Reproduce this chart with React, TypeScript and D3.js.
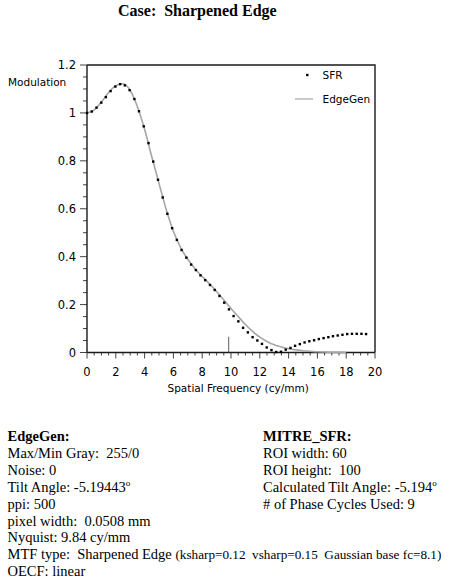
import * as d3 from "d3";
import { useEffect, useRef } from "react";

// SFR measured points (cy/mm, modulation)
const sfrFreq = [
  0, 0.33, 0.66, 0.99, 1.31, 1.64, 1.97, 2.3, 2.63, 2.96, 3.29, 3.61, 3.94, 4.27, 4.6, 4.93, 5.26, 5.58, 5.91, 6.24,
  6.57, 6.9, 7.23, 7.56, 7.88, 8.21, 8.54, 8.87, 9.2, 9.53, 9.86, 10.18, 10.51, 10.84, 11.17, 11.5, 11.83, 12.15, 12.48, 12.81,
  13.14, 13.47, 13.8, 14.13, 14.45, 14.78, 15.11, 15.44, 15.77, 16.1, 16.43, 16.76, 17.08, 17.41, 17.74, 18.07, 18.4, 18.73, 19.06, 19.38,
];
const sfrMod = [
  1.0, 1.006, 1.022, 1.043, 1.066, 1.091, 1.11, 1.12, 1.115, 1.095, 1.058, 1.007, 0.944, 0.874, 0.797, 0.721, 0.647, 0.579, 0.519, 0.47,
  0.428, 0.396, 0.367, 0.344, 0.322, 0.302, 0.282, 0.261, 0.236, 0.208, 0.18, 0.152, 0.13, 0.103, 0.084, 0.064, 0.05, 0.036, 0.021, 0.01,
  0.002, 0.003, 0.012, 0.019, 0.028, 0.035, 0.042, 0.047, 0.051, 0.056, 0.06, 0.064, 0.068, 0.071, 0.074, 0.077, 0.078, 0.078, 0.078, 0.077,
];

// EdgeGen reference curve
const edgeFreq = [
  0, 0.5, 1, 1.5, 2, 2.5, 3, 3.5, 4, 4.5, 5, 5.5, 6, 6.5, 7, 7.5, 8, 8.5, 9, 9.5,
  10, 10.5, 11, 11.5, 12, 12.5, 13, 13.5, 14, 14.5, 15, 15.5, 16, 16.5, 17, 17.5, 18,
];
const edgeMod = [
  1.0, 1.012, 1.045, 1.085, 1.114, 1.122, 1.094, 1.026, 0.932, 0.817, 0.706, 0.597, 0.506, 0.438, 0.389, 0.35, 0.317, 0.287, 0.255, 0.219,
  0.184, 0.15, 0.117, 0.088, 0.064, 0.046, 0.032, 0.023, 0.016, 0.011, 0.007, 0.005, 0.003, 0.002, 0.001, 0.0005, 0,
];

const nyquist = 9.84;
const xTicks = [0, 2, 4, 6, 8, 10, 12, 14, 16, 18, 20];
const yTicks = [0, 0.2, 0.4, 0.6, 0.8, 1, 1.2];

const NB = "\u00a0";
const leftLines = [
  `Max/Min Gray:${NB} 255/0`,
  "Noise: 0",
  "Tilt Angle: -5.19443",
  "ppi: 500",
  `pixel width:${NB} 0.0508 mm`,
  "Nyquist: 9.84 cy/mm",
];
const rightLines = ["ROI width: 60", `ROI height:${NB} 100`, "Calculated Tilt Angle: -5.194", "# of Phase Cycles Used: 9"];

export default function App() {
  const svgRef = useRef<SVGSVGElement | null>(null);

  useEffect(() => {
    document.body.style.margin = "0";
    if (!svgRef.current) return;
    const svg = d3.select(svgRef.current);
    svg.selectAll("*").remove();

    const plot = { left: 87, right: 375, top: 65, bottom: 352.5 };
    const x = d3.scaleLinear().domain([0, 20]).range([plot.left, plot.right]);
    const y = d3.scaleLinear().domain([0, 1.2]).range([plot.bottom, plot.top]);
    const sansFont = "DejaVu Sans, Verdana, sans-serif";
    const serifFont = "Liberation Serif, Times New Roman, serif";

    // title
    svg.append("text")
      .attr("x", 118).attr("y", 15.5)
      .attr("font-family", serifFont).attr("font-weight", "bold").attr("font-size", 16)
      .text(`Case:${NB} Sharpened Edge`);

    // frame
    svg.append("path")
      .attr("d", `M${plot.left},${plot.top}H${plot.right}V${plot.bottom}`)
      .attr("fill", "none").attr("stroke", "#1a1a1a").attr("stroke-width", 1.4);

    // minor + major ticks
    const g = svg.append("g").attr("stroke", "#444").attr("stroke-width", 1);
    d3.range(0, 20.001, 0.5).forEach(v => {
      const major = Math.abs(v % 2) < 1e-6;
      g.append("line").attr("x1", x(v)).attr("x2", x(v)).attr("y1", plot.bottom).attr("y2", plot.bottom + (major ? 6 : 3));
    });
    d3.range(0, 1.2001, 0.05).forEach(v => {
      const major = Math.abs(Math.round(v * 100) % 20) < 1e-6;
      g.append("line").attr("y1", y(v)).attr("y2", y(v)).attr("x1", plot.left).attr("x2", plot.left - (major ? 7 : 4));
    });

    // axes lines
    svg.append("line").attr("x1", plot.left).attr("x2", plot.right).attr("y1", plot.bottom).attr("y2", plot.bottom)
      .attr("stroke", "#1a1a1a").attr("stroke-width", 1.4);
    svg.append("line").attr("x1", plot.left).attr("x2", plot.left).attr("y1", plot.top).attr("y2", plot.bottom)
      .attr("stroke", "#1a1a1a").attr("stroke-width", 1.4);

    // tick labels
    svg.append("g").selectAll("text").data(xTicks).join("text")
      .attr("x", d => x(d)).attr("y", 375.5)
      .attr("text-anchor", "middle").attr("font-family", sansFont).attr("font-size", 11.5)
      .text(d => d);
    svg.append("g").selectAll("text").data(yTicks).join("text")
      .attr("x", 76).attr("y", d => y(d) + 4.2)
      .attr("text-anchor", "end").attr("font-family", sansFont).attr("font-size", 11.5)
      .text(d => d);

    svg.append("text").attr("x", 8).attr("y", 86)
      .attr("font-family", sansFont).attr("font-size", 10.5).text("Modulation");
    svg.append("text").attr("x", 167.5).attr("y", 391.5)
      .attr("font-family", sansFont).attr("font-size", 10.5).text("Spatial Frequency (cy/mm)");

    // Nyquist marker
    svg.append("line").attr("x1", x(nyquist)).attr("x2", x(nyquist)).attr("y1", y(0)).attr("y2", y(0.066))
      .attr("stroke", "#333").attr("stroke-width", 0.8);

    // EdgeGen line
    const edgeData = edgeFreq.map((f, i) => [f, edgeMod[i]] as [number, number]);
    const line = d3.line<[number, number]>().x(d => x(d[0])).y(d => y(d[1])).curve(d3.curveMonotoneX);
    svg.append("path").datum(edgeData).attr("d", line)
      .attr("fill", "none").attr("stroke", "#a6a6a6").attr("stroke-width", 1.6);

    // SFR points
    const sfrData = sfrFreq.map((f, i) => [f, sfrMod[i]] as [number, number]);
    svg.append("g").selectAll("rect").data(sfrData).join("rect")
      .attr("x", d => x(d[0]) - 1.2).attr("y", d => y(d[1]) - 1.2)
      .attr("width", 2.4).attr("height", 2.4).attr("fill", "#000");

    // legend
    svg.append("rect").attr("x", 306.1).attr("y", 73.8).attr("width", 2.4).attr("height", 2.4).attr("fill", "#000");
    svg.append("text").attr("x", 322.5).attr("y", 79).attr("font-family", sansFont).attr("font-size", 10.5).text("SFR");
    svg.append("line").attr("x1", 295).attr("x2", 313).attr("y1", 99).attr("y2", 99)
      .attr("stroke", "#a6a6a6").attr("stroke-width", 1.2);
    svg.append("text").attr("x", 322.5).attr("y", 102.5).attr("font-family", sansFont).attr("font-size", 10.5).text("EdgeGen");

    // info text
    const lineH = 16.9;
    const base = 441;
    const info = svg.append("g").attr("font-family", serifFont).attr("font-size", 14.5);
    info.append("text").attr("x", 7.5).attr("y", base).attr("font-weight", "bold").text("EdgeGen:");
    leftLines.forEach((t, i) => {
      const tx = info.append("text").attr("x", 7.5).attr("y", base + lineH * (i + 1)).text(t);
      if (t.startsWith("Tilt")) tx.append("tspan").attr("font-size", 9).attr("dy", -5.5).text("o");
    });
    const mtf = info.append("text").attr("x", 7.5).attr("y", base + lineH * 7).text(`MTF type:${NB} Sharpened Edge `);
    mtf.append("tspan").attr("font-size", 13.2).text(`(ksharp=0.12${NB} vsharp=0.15${NB} Gaussian base fc=8.1)`);
    info.append("text").attr("x", 7.5).attr("y", base + lineH * 8).text("OECF: linear");

    info.append("text").attr("x", 263).attr("y", base).attr("font-weight", "bold").text("MITRE_SFR:");
    rightLines.forEach((t, i) => {
      const tx = info.append("text").attr("x", 263).attr("y", base + lineH * (i + 1)).text(t);
      if (t.startsWith("Calculated")) tx.append("tspan").attr("font-size", 9).attr("dy", -5.5).text("o");
    });
  }, []);

  return <svg ref={svgRef} width={471} height={581} style={{ display: "block", background: "#fff" }} />;
}
